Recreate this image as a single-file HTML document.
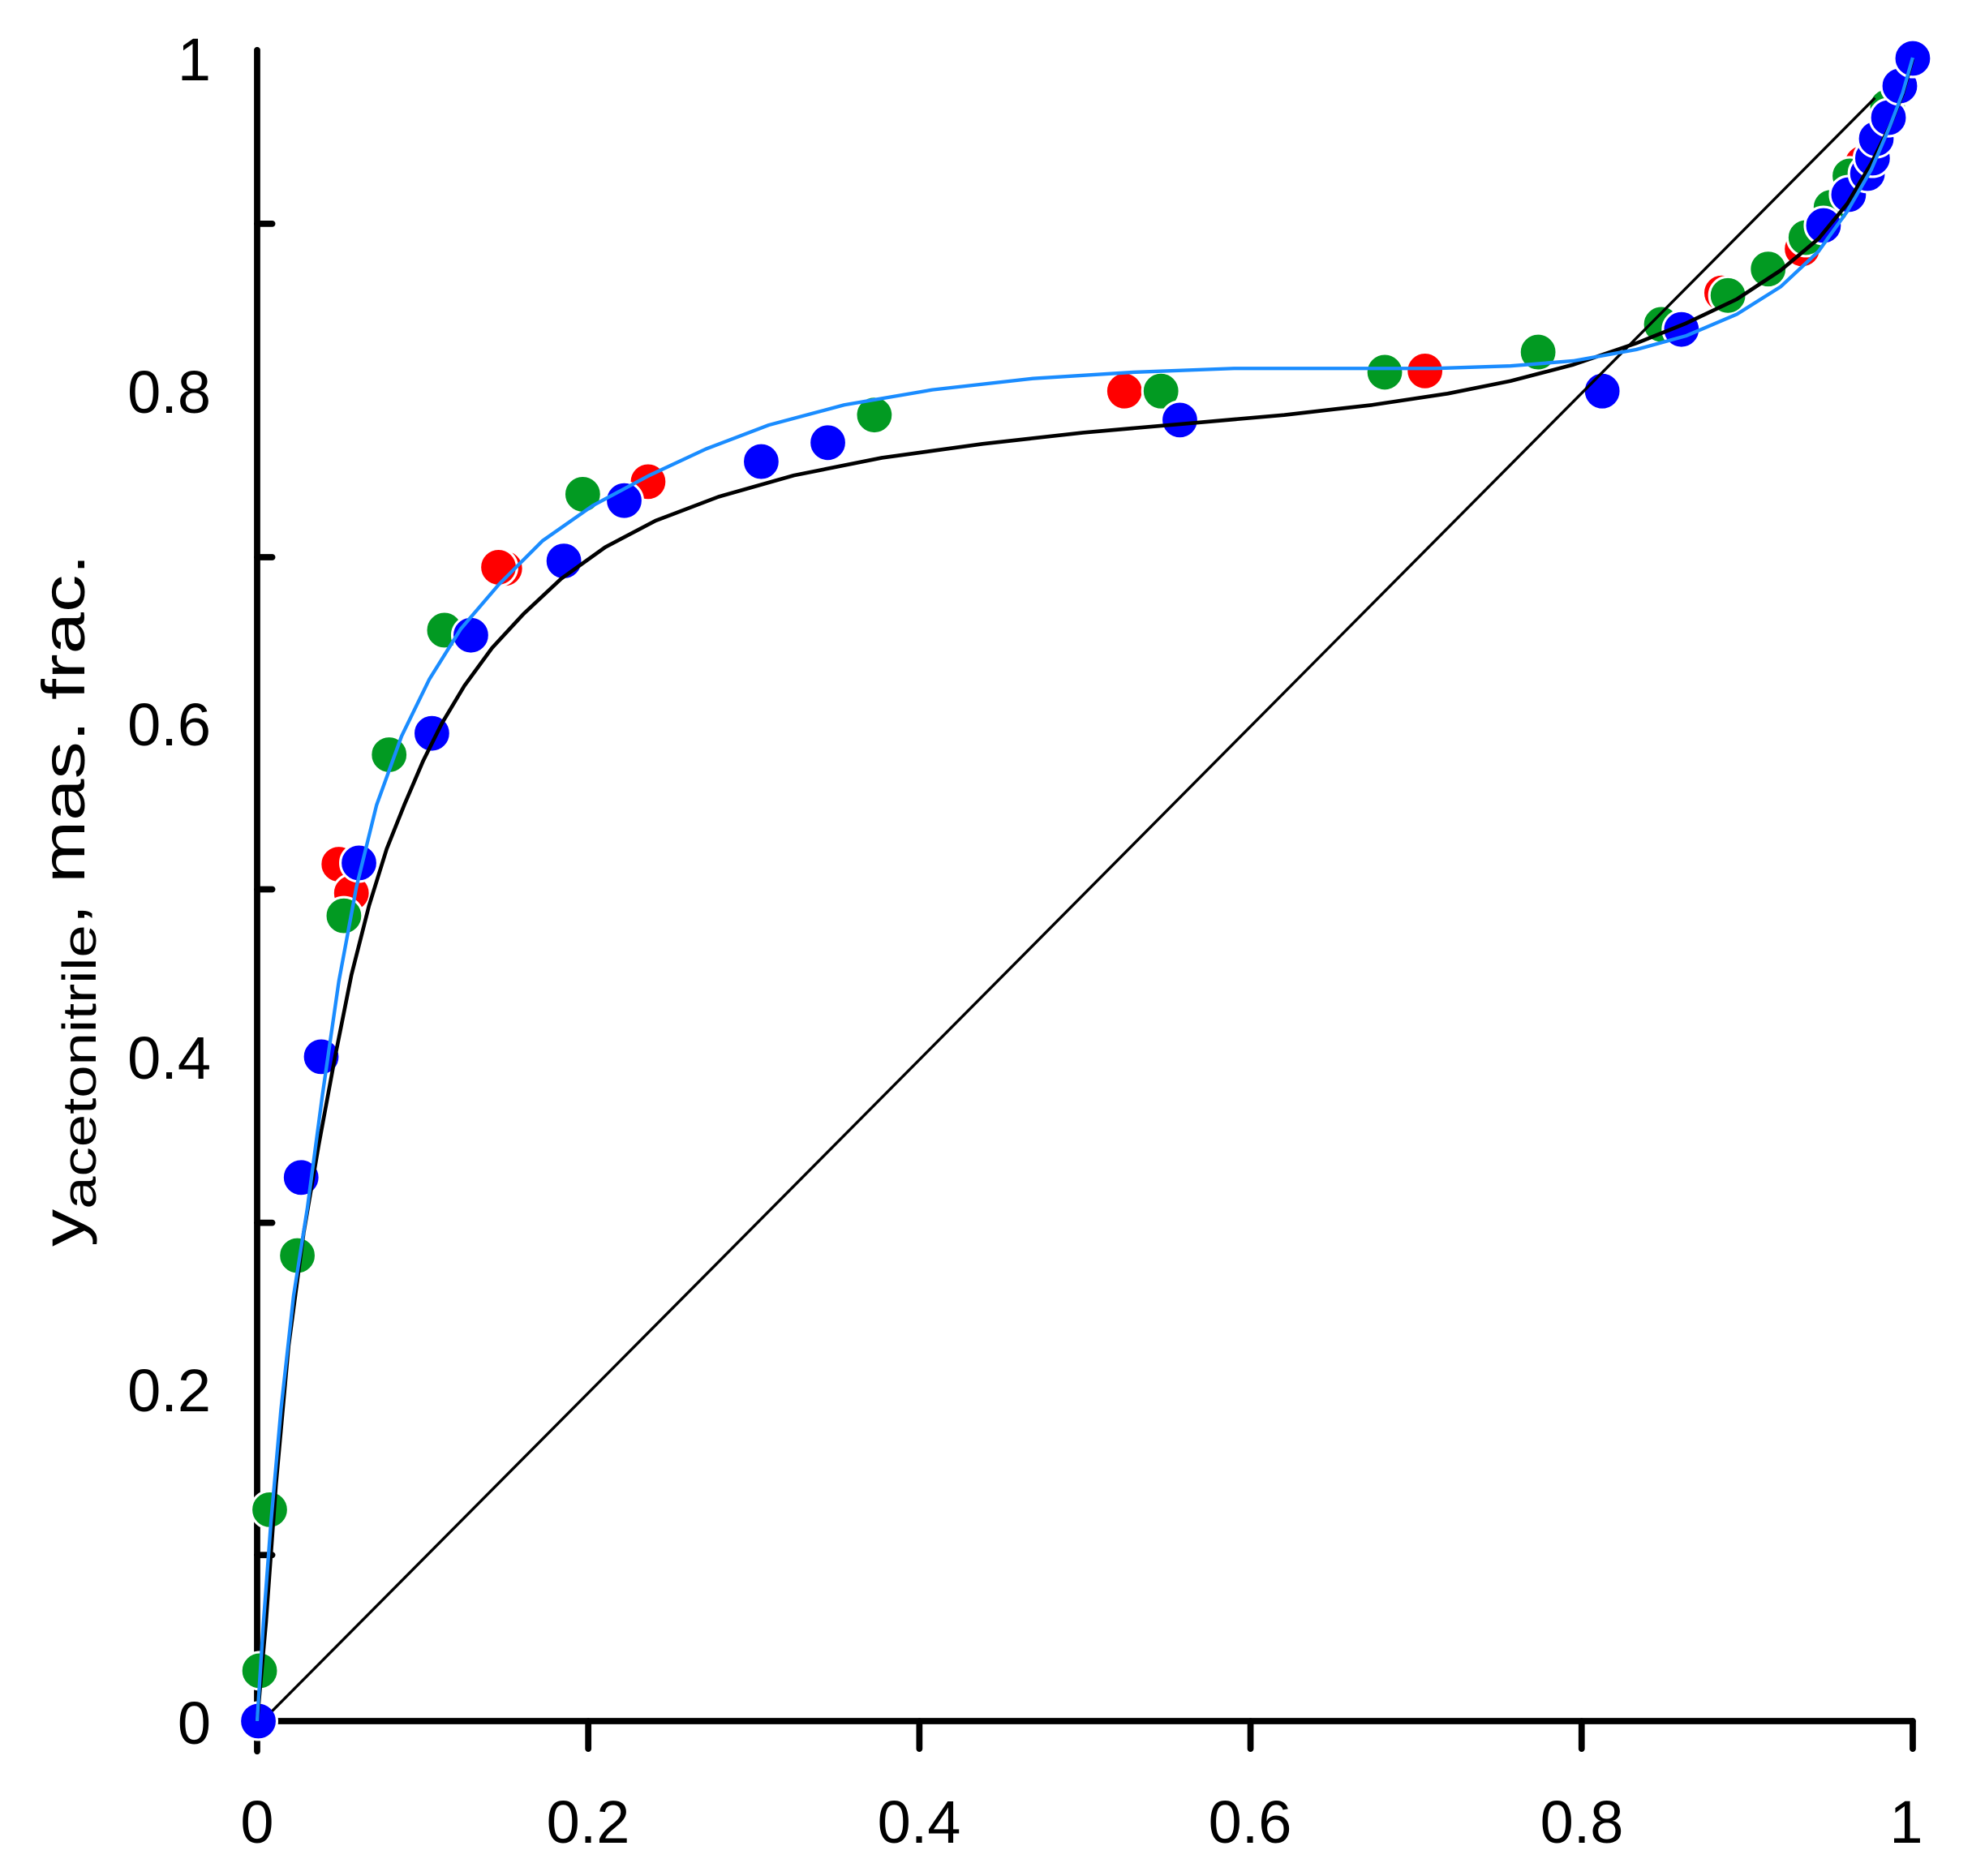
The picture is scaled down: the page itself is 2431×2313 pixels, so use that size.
<!DOCTYPE html>
<html><head><meta charset="utf-8"><style>
html,body{margin:0;padding:0;background:#fff;}
svg{display:block;}
text{font-family:"Liberation Sans",sans-serif;fill:#000;}
</style></head><body>
<svg width="2431" height="2313" viewBox="0 0 2431 2313" xmlns="http://www.w3.org/2000/svg">
<rect width="2431" height="2313" fill="#fff"/>
<g transform="translate(2.4,-0.3) scale(1.5497,1.5514)">
  <g stroke="#000" stroke-width="5" stroke-linecap="round" fill="none">
    <line x1="203" y1="40" x2="203" y2="1392"/>
    <line x1="203" y1="1368" x2="1520" y2="1368"/>
    <line x1="466.4" y1="1368" x2="466.4" y2="1390"/>
    <line x1="729.8" y1="1368" x2="729.8" y2="1390"/>
    <line x1="993.2" y1="1368" x2="993.2" y2="1390"/>
    <line x1="1256.6" y1="1368" x2="1256.6" y2="1390"/>
    <line x1="1520" y1="1368" x2="1520" y2="1390"/>
    <line x1="203" y1="178" x2="215" y2="178"/>
    <line x1="203" y1="443" x2="215" y2="443"/>
    <line x1="203" y1="707" x2="215" y2="707"/>
    <line x1="203" y1="972" x2="215" y2="972"/>
    <line x1="203" y1="1236" x2="215" y2="1236"/>
  </g>
  <g fill="#ff0000" stroke="#fff" stroke-width="2">
    <circle cx="268" cy="687" r="14.8"/><circle cx="278" cy="710" r="14.8"/>
    <circle cx="400" cy="452" r="14.8"/><circle cx="395" cy="451" r="14.8"/>
    <circle cx="514" cy="383" r="14.8"/><circle cx="893" cy="311" r="14.8"/>
    <circle cx="1132" cy="295" r="14.8"/><circle cx="1368" cy="233" r="14.8"/>
    <circle cx="1432" cy="198" r="14.8"/><circle cx="1480" cy="130" r="14.8"/>
  </g>
  <g fill="#029a22" stroke="#fff" stroke-width="2">
    <circle cx="205" cy="1328" r="14.8"/><circle cx="213" cy="1200" r="14.8"/>
    <circle cx="235" cy="998" r="14.8"/><circle cx="272" cy="728" r="14.8"/>
    <circle cx="308" cy="600" r="14.8"/><circle cx="352" cy="501" r="14.8"/>
    <circle cx="462" cy="393" r="14.8"/><circle cx="694" cy="330" r="14.8"/>
    <circle cx="922" cy="311" r="14.8"/><circle cx="1100" cy="296" r="14.8"/>
    <circle cx="1222" cy="280" r="14.8"/><circle cx="1320" cy="258" r="14.8"/>
    <circle cx="1373" cy="235" r="14.8"/><circle cx="1405" cy="214" r="14.8"/>
    <circle cx="1435" cy="189" r="14.8"/><circle cx="1455" cy="165" r="14.8"/>
    <circle cx="1470" cy="140" r="14.8"/><circle cx="1500" cy="85" r="14.8"/>
  </g>
  <g fill="#0000ff" stroke="#fff" stroke-width="2">
    <circle cx="204" cy="1368" r="14.8"/><circle cx="238" cy="936" r="14.8"/>
    <circle cx="254" cy="840" r="14.8"/><circle cx="284" cy="686" r="14.8"/>
    <circle cx="342" cy="583" r="14.8"/><circle cx="373" cy="505" r="14.8"/>
    <circle cx="447" cy="446" r="14.8"/><circle cx="495" cy="398" r="14.8"/>
    <circle cx="604" cy="367" r="14.8"/><circle cx="657" cy="352" r="14.8"/>
    <circle cx="937" cy="334" r="14.8"/><circle cx="1273" cy="311" r="14.8"/>
    <circle cx="1336" cy="262" r="14.8"/><circle cx="1449" cy="179.4" r="14.8"/>
    <circle cx="1469" cy="154.9" r="14.8"/><circle cx="1484" cy="138.1" r="14.8"/>
    <circle cx="1488" cy="125.9" r="14.8"/><circle cx="1491" cy="110.4" r="14.8"/>
    <circle cx="1500.7" cy="93.7" r="14.8"/><circle cx="1509.7" cy="68.5" r="14.8"/>
    <circle cx="1520" cy="46.6" r="14.8"/>
  </g>
  <line x1="215" y1="1360" x2="1490" y2="78" stroke="#000" stroke-width="2.2"/>
  <polyline fill="none" stroke="#000" stroke-width="3" stroke-linejoin="round" points="203,1368 210,1290 218,1180 228,1070 240,980 252,910 265,840 278,775 292,720 306,675 320,640 335,605 350,575 368,545 390,515 415,488 445,460 480,435 520,414 570,395 630,378 700,364 780,353 860,344 940,337 1020,330 1090,322 1150,313 1200,303 1250,290 1300,273 1340,257 1380,238 1415,215 1445,190 1468,162 1487,130 1502,100 1512,75 1520,47"/>
  <polyline fill="none" stroke="#1a8cff" stroke-width="2.8" stroke-linejoin="round" points="203,1368 208,1290 214,1210 222,1120 232,1030 243,960 255,870 268,780 282,705 298,640 318,585 340,540 365,500 395,465 430,430 470,402 515,378 560,357 610,338 670,322 740,310 820,301 900,296 980,293 1060,293 1140,293 1200,291 1250,287 1300,278 1340,267 1380,250 1415,228 1445,200 1468,168 1487,135 1502,100 1512,74 1520,46"/>
</g>
<g font-size="74" text-anchor="middle">
  <text x="317" y="2272">0</text>
  <text x="725" y="2272">0.2</text>
  <text x="1133" y="2272">0.4</text>
  <text x="1541" y="2272">0.6</text>
  <text x="1950" y="2272">0.8</text>
  <text x="2350" y="2272">1</text>
</g>
<g font-size="74" text-anchor="end">
  <text x="260" y="2150">0</text>
  <text x="260" y="1740">0.2</text>
  <text x="260" y="1330">0.4</text>
  <text x="260" y="919">0.6</text>
  <text x="260" y="509">0.8</text>
  <text x="260" y="99">1</text>
</g>
<text transform="translate(104,1110) rotate(-90)" text-anchor="middle" font-size="74" textLength="854" lengthAdjust="spacingAndGlyphs">y<tspan font-size="58" dy="14">acetonitrile</tspan><tspan dy="-14">, mas. frac.</tspan></text>
</svg>
</body></html>
